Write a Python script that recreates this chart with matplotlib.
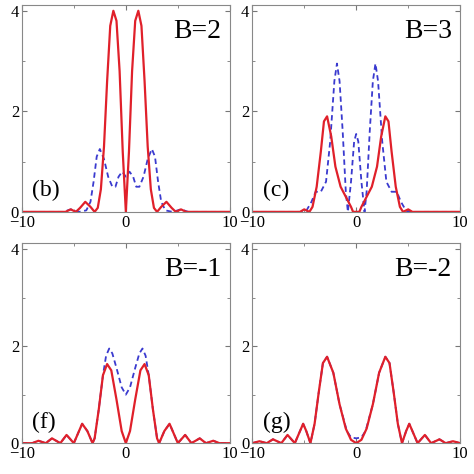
import numpy as np
import matplotlib
matplotlib.use("Agg")
import matplotlib.pyplot as plt

plt.rcParams['font.family'] = ['Liberation Serif', 'DejaVu Serif']

# half-curves (x>=0), mirrored for symmetric profiles
red_b = [(0,0),(0.3,1.2),(0.6,2.8),(0.9,3.8),(1.2,4.0),(1.5,3.7),(1.8,2.6),(2.1,1.3),(2.4,0.45),(2.7,0.08),(3.0,0),(3.4,0.1),(3.9,0.2),(4.4,0.08),(4.8,0),(5.3,0.05),(5.8,0),(10,0)]
blue_b = [(0,0.7),(0.35,0.8),(0.7,0.7),(1.0,0.5),(1.3,0.5),(1.7,0.7),(2.1,1.05),(2.5,1.25),(2.8,1.1),(3.1,0.6),(3.4,0.2),(3.8,0.03),(4.5,0),(5.3,0.05),(6,0),(10,0)]
red_c = [(0,0),(0.3,0),(0.5,0.1),(1.0,0.3),(1.5,0.5),(2.0,0.9),(2.4,1.5),(2.8,1.9),(3.1,1.8),(3.4,1.2),(3.8,0.5),(4.2,0.1),(4.5,0),(5.0,0.05),(5.4,0),(10,0)]
blue_c = [(0,1.55),(0.2,1.4),(0.5,0.6),(0.8,0),(1.0,0.4),(1.3,1.6),(1.6,2.6),(1.85,2.95),(2.1,2.6),(2.5,1.4),(2.9,0.6),(3.4,0.4),(3.9,0.4),(4.3,0.2),(4.8,0.02),(5.3,0),(10,0)]
red_f = [(0,0),(0.4,0.25),(0.9,0.9),(1.4,1.5),(1.8,1.63),(2.2,1.4),(2.6,0.7),(3.0,0.1),(3.2,0),(3.7,0.25),(4.2,0.4),(4.6,0.2),(5.0,0),(5.7,0.17),(6.3,0),(7.1,0.1),(7.7,0),(8.4,0.05),(9.0,0),(10,0)]
blue_f = [(0,1.0),(0.4,1.15),(0.9,1.55),(1.3,1.85),(1.6,1.95),(1.9,1.8),(2.2,1.4),(2.6,0.7),(3.0,0.1),(3.2,0),(3.7,0.25),(4.2,0.4),(4.6,0.2),(5.0,0),(5.7,0.17),(6.3,0),(7.1,0.1),(7.7,0),(8.4,0.05),(9.0,0),(10,0)]
red_g = [(0,0),(0.5,0.07),(1.0,0.3),(1.6,0.8),(2.2,1.45),(2.8,1.78),(3.2,1.65),(3.6,1.05),(4.0,0.4),(4.4,0),(4.8,0.25),(5.1,0.4),(5.5,0.2),(5.9,0),(6.6,0.17),(7.2,0),(8.0,0.08),(8.6,0),(9.3,0.04),(10,0)]
blue_g = [(0,0.1),(0.5,0.12),(0.9,0.25),(1.6,0.8),(2.2,1.45),(2.8,1.78),(3.2,1.65),(3.6,1.05),(4.0,0.4),(4.4,0),(4.8,0.25),(5.1,0.4),(5.5,0.2),(5.9,0),(6.6,0.17),(7.2,0),(8.0,0.08),(8.6,0),(9.3,0.04),(10,0)]

panels = [("B=2","(b)",red_b,blue_b),("B=3","(c)",red_c,blue_c),
          ("B=-1","(f)",red_f,blue_f),("B=-2","(g)",red_g,blue_g)]
rects = [[0.046,0.553,0.439,0.437],[0.532,0.553,0.439,0.437],
         [0.046,0.065,0.439,0.422],[0.532,0.065,0.439,0.422]]

def full(h):
    h = np.array(h)
    x = np.concatenate([-h[::-1,0], h[1:,0]])
    y = np.concatenate([h[::-1,1], h[1:,1]])
    return x, y

fig = plt.figure(figsize=(4.74,4.74), dpi=100)
for (lab, tag, r, b), rc in zip(panels, rects):
    ax = fig.add_axes(rc)
    xb, yb = full(b); xr, yr = full(r)
    ax.plot(xb, yb, color='#3a3acf', ls=(0,(3,2)), lw=1.3)
    ax.plot(xr, yr, color='#e0202a', lw=1.6)
    ax.set_xlim(-10,10); ax.set_ylim(0,4.12)
    ax.set_xticks([-10,0,10]); ax.set_yticks([0,2,4])
    ax.set_yticks([1,3], minor=True); ax.set_xticks([-5,5], minor=True)
    ax.tick_params(direction='in', which='both', top=True, right=True, labelsize=12, pad=2, color='#777777')
    for s in ax.spines.values():
        s.set_color('#888888')
    ax.text(0.96,0.93,lab,transform=ax.transAxes,ha='right',va='top',fontsize=20)
    ax.text(0.05,0.05,tag,transform=ax.transAxes,ha='left',va='bottom',fontsize=17)
fig.savefig('out.png', dpi=100)
